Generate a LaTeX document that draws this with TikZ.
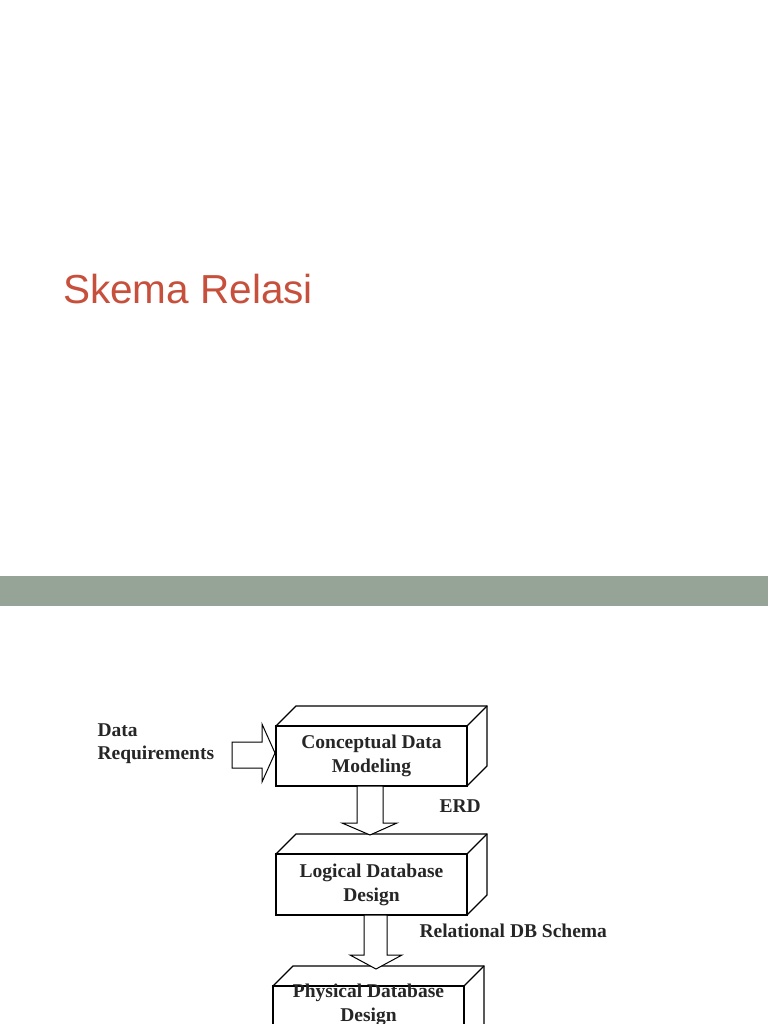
\documentclass[tikz,border=0pt]{standalone}
\usepackage{fontspec}
\setmainfont{Liberation Serif}
\newfontfamily\titlefont{Liberation Sans}
\definecolor{titlered}{RGB}{199,80,60}
\definecolor{band}{RGB}{150,164,152}
\begin{document}
\begin{tikzpicture}[x=1pt,y=-1pt,
  cube/.style={draw=black,line width=1.2pt,fill=white},
  fat/.style={draw=black,line width=1pt,fill=white},
  btxt/.style={font=\fontsize{19.5}{24}\selectfont\bfseries,align=center,text=black!85},
  lbl/.style={font=\fontsize{19.5}{23}\selectfont\bfseries,anchor=west,align=left,text=black!85}]
\useasboundingbox (0,0) rectangle (768,1024);
\fill[white] (0,0) rectangle (768,1024);
\node[anchor=base west,text=titlered,font=\titlefont\fontsize{40.5}{46}\selectfont,inner sep=0] (title) at (63,303) {Skema Relasi};
\fill[band] (0,576) rectangle (768,606);
% boxes
\foreach \n/\l/\r/\t/\b in {c1/276/467/726/786, c2/276/467/854/915, c3/273/464/986/1050}{
  \draw[cube] (\l,\t) -- (\l+20,\t-20) -- (\r+20,\t-20) -- (\r+20,\b-20) -- (\r,\b) -- cycle;
  \draw[cube] (\r,\t) -- (\r+20,\t-20);
  \draw[cube] (\l,\t) rectangle (\r,\b);
  \coordinate (\n) at ({(\l+\r)/2},{(\t+\b)/2});
}
\node[btxt] (t1) at (c1) {Conceptual Data\\Modeling};
\node[btxt] (t2) at (c2) {Logical Database\\Design};
\node[btxt] (t3) at (368.5,1005) {Physical Database\\Design};
% arrows
\draw[fat] (232,742) -- (262,742) -- (262,724) -- (275,753) -- (262,782) -- (262,768) -- (232,768) -- cycle;
\draw[fat] (357,786) -- (383,786) -- (383,823) -- (397,823) -- (370,835) -- (342,823) -- (357,823) -- cycle;
\draw[fat] (364,915) -- (387,915) -- (387,955) -- (402,955) -- (376,969) -- (350,955) -- (364,955) -- cycle;
\node[lbl] (dr) at (94,744) {Data\\Requirements};
\node[lbl] (erd) at (436,806) {ERD};
\node[lbl] (rdb) at (416,931) {Relational DB Schema};
\end{tikzpicture}
\end{document}
